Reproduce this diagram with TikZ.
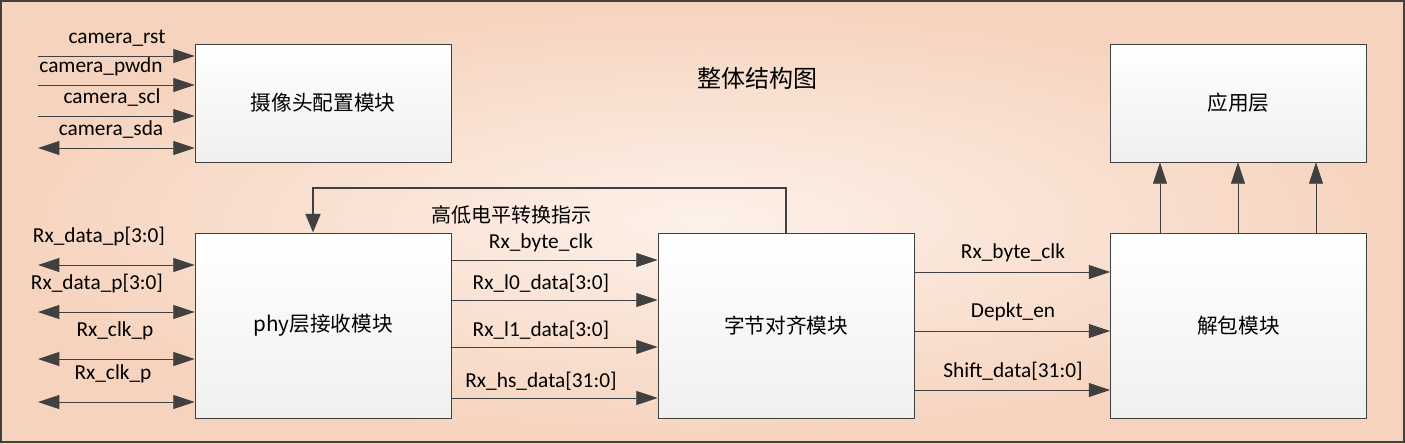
\documentclass[tikz,border=0pt]{standalone}
\usepackage{fontspec}
\setmainfont{Carlito}
\newfontfamily\cjk{Noto Sans CJK SC}
\usetikzlibrary{arrows.meta}
\definecolor{ln}{HTML}{404040}
\definecolor{peach}{HTML}{F6D3BE}
\definecolor{peachin}{HTML}{FDF1E9}
\begin{document}
\begin{tikzpicture}[x=0.75pt,y=-0.75pt,
  blk/.style={draw=ln,line width=0.6pt,top color=white,bottom color=gray!12,minimum width=192pt,inner sep=0pt,font=\cjk\fontsize{15.5}{18}\selectfont},
  sig/.style={draw=ln,line width=0.6pt,-{Triangle[length=16pt,width=10.5pt]}},
  bsig/.style={draw=ln,line width=0.6pt,{Triangle[length=16pt,width=10.5pt]}-{Triangle[length=16pt,width=10.5pt]}},
  lbl/.style={font=\fontsize{16}{18}\selectfont,inner sep=0pt}]
\useasboundingbox (0,0) rectangle (1405,443);
\shade[inner color=peachin,outer color=peach] (0,0) rectangle (1405,443);
\draw[ln,line width=0.8pt] (1,1) rectangle (1404,442);
\node[font=\cjk\fontsize{18}{20}\selectfont] (title) at (757,78) {整体结构图};
\node[blk,minimum height=88.5pt] (cam) at (323,103) {摄像头配置模块};
\node[blk,minimum height=138.75pt] (phy) at (323,325.5) {phy层接收模块};
\node[blk,minimum height=138.75pt] (aln) at (786,325.5) {字节对齐模块};
\node[blk,minimum height=138.75pt] (unp) at (1238.5,325.5) {解包模块};
\node[blk,minimum height=88.5pt] (app) at (1238.5,103) {应用层};
% camera signals
\foreach \y/\t/\s/\lx in {56/camera\_rst/sig/117,85/camera\_pwdn/sig/101,116/camera\_scl/sig/112,148/camera\_sda/bsig/111}{
  \coordinate (c\y) at (38,\y);
  \draw[\s] (c\y) -- (cam.west |- c\y);
  \node[lbl] at (\lx,\y-18) {\t};
}
\foreach \y/\t/\lx in {265/Rx\_data\_p[3:0]/99,312/Rx\_data\_p[3:0]/97,359/Rx\_clk\_p/115,402/Rx\_clk\_p/113}{
  \coordinate (r\y) at (38,\y);
  \draw[bsig] (r\y) -- (phy.west |- r\y);
  \node[lbl] at (\lx,\y-28) {\t};
}
\foreach \y/\t in {260/Rx\_byte\_clk,300/Rx\_l0\_data[3:0],347/Rx\_l1\_data[3:0],398/Rx\_hs\_data[31:0]}{
  \draw[sig] (phy.east |- 0,\y) -- (aln.west |- 0,\y);
  \node[lbl] at (541,\y-17) {\t};
}
\foreach \y/\t in {272/Rx\_byte\_clk,331/Depkt\_en,390/Shift\_data[31:0]}{
  \draw[sig] (aln.east |- 0,\y) -- (unp.west |- 0,\y);
  \node[lbl] at (1013,\y-19) {\t};
}
\foreach \x in {1160,1238,1316}{
  \draw[sig] (unp.north -| \x,0) -- (app.south -| \x,0);
}
\draw[draw=ln,line width=2pt,-{Triangle[length=14pt,width=11pt]}] (aln.north -| 786,0) -- (786,188) -- (313,188) -- (phy.north -| 313,0);
\node[font=\cjk\fontsize{15}{17}\selectfont] (fb) at (511,215) {高低电平转换指示};
\end{tikzpicture}
\end{document}
